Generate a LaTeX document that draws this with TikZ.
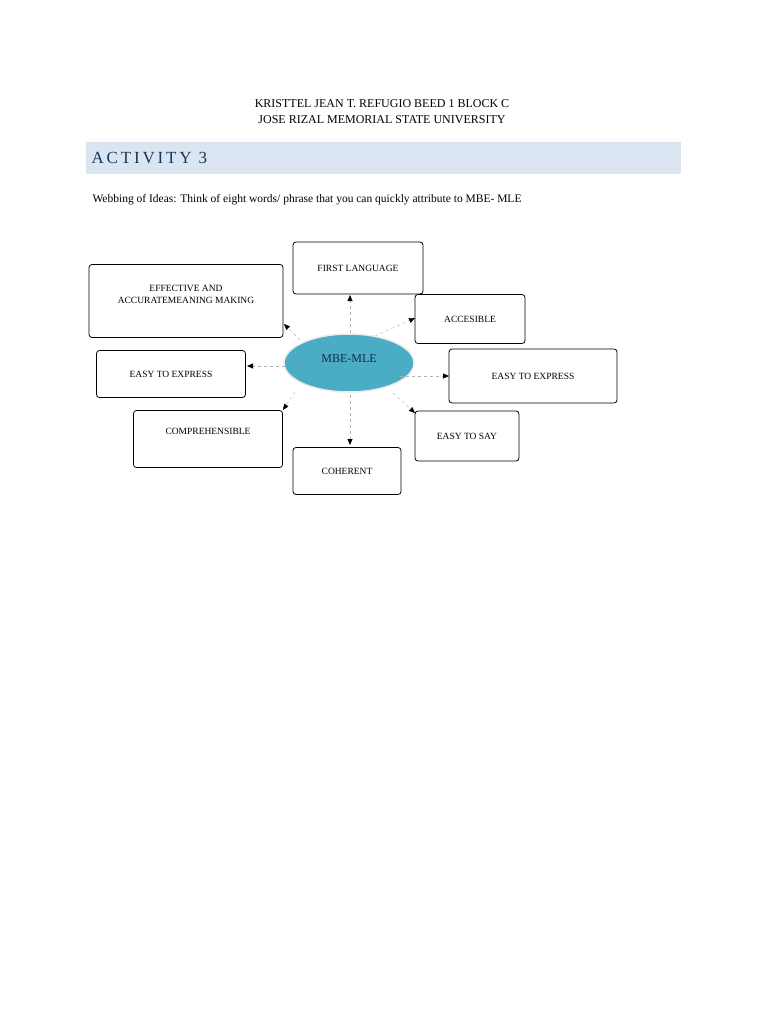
\documentclass[tikz,border=0pt]{standalone}
\usepackage{fontspec}
\setmainfont{Liberation Serif}
\usetikzlibrary{shapes.geometric,arrows.meta}
\definecolor{band}{HTML}{DBE5F1}
\definecolor{ell}{HTML}{4BACC6}
\definecolor{navy}{HTML}{17365D}
\begin{document}
\begin{tikzpicture}[x=1pt,y=-1pt,
  box/.style={draw,line width=0.8pt,rounded corners=3pt,font=\fontsize{9.5}{12}\selectfont,align=center,inner sep=0pt},
  conn/.style={draw=gray!60,dashed,-{Triangle[black,length=6pt,width=5pt]}}]
\useasboundingbox (0,0) rectangle (768,1024);
\node[font=\fontsize{12}{16}\selectfont,align=center] (hd) at (382,112) {KRISTTEL JEAN T. REFUGIO BEED 1 BLOCK C\\JOSE RIZAL MEMORIAL STATE UNIVERSITY};
\fill[band] (86,142) rectangle (681,174);
\node[anchor=west,text=navy,font=\fontsize{17}{19}\selectfont] (act) at (88,158) {A\,C\,T\,I\,V\,I\,T\,Y\, 3};
\node[anchor=west,font=\fontsize{11.5}{13}\selectfont] (sub) at (89,200) {Webbing of Ideas: Think of eight words/ phrase that you can quickly attribute to MBE- MLE};
\node[ellipse,fill=ell,draw=gray!15,line width=1.5pt,minimum width=130,minimum height=58,font=\fontsize{12}{14}\selectfont,text=navy!80!black] (m) at (349,363) {\raisebox{8pt}{MBE-MLE}};
\node[box,minimum width=130,minimum height=52] (b1) at (358,268) {FIRST LANGUAGE};
\node[box,minimum width=194,minimum height=73] (b2) at (186,301) {EFFECTIVE AND\\ACCURATEMEANING MAKING\\[2pt]};
\node[box,minimum width=110,minimum height=49] (b3) at (470,319) {ACCESIBLE};
\node[box,minimum width=149,minimum height=47] (b4) at (171,374) {EASY TO EXPRESS};
\node[box,minimum width=168,minimum height=54] (b5) at (533,376) {EASY TO EXPRESS};
\node[box,minimum width=149,minimum height=57] (b6) at (208,439) {COMPREHENSIBLE\\[4pt]};
\node[box,minimum width=104,minimum height=50] (b7) at (467,436) {EASY TO SAY};
\node[box,minimum width=108,minimum height=47] (b8) at (347,471) {COHERENT};
\coordinate (e1) at (350,295); \coordinate (s1) at (350,333);
\coordinate (e2) at (284,324); \coordinate (s2) at (300,340);
\coordinate (e3) at (415,318); \coordinate (s3) at (375,336);
\coordinate (e4) at (247,366); \coordinate (s4) at (285,366);
\coordinate (e5) at (449,376); \coordinate (s5) at (400,376);
\coordinate (e6) at (283,410); \coordinate (s6) at (295,392);
\coordinate (e7) at (415,413); \coordinate (s7) at (393,393);
\coordinate (e8) at (350,445); \coordinate (s8) at (350,395);
\foreach \i in {1,...,8} \draw[conn] (s\i) -- (e\i);
\end{tikzpicture}
\end{document}
